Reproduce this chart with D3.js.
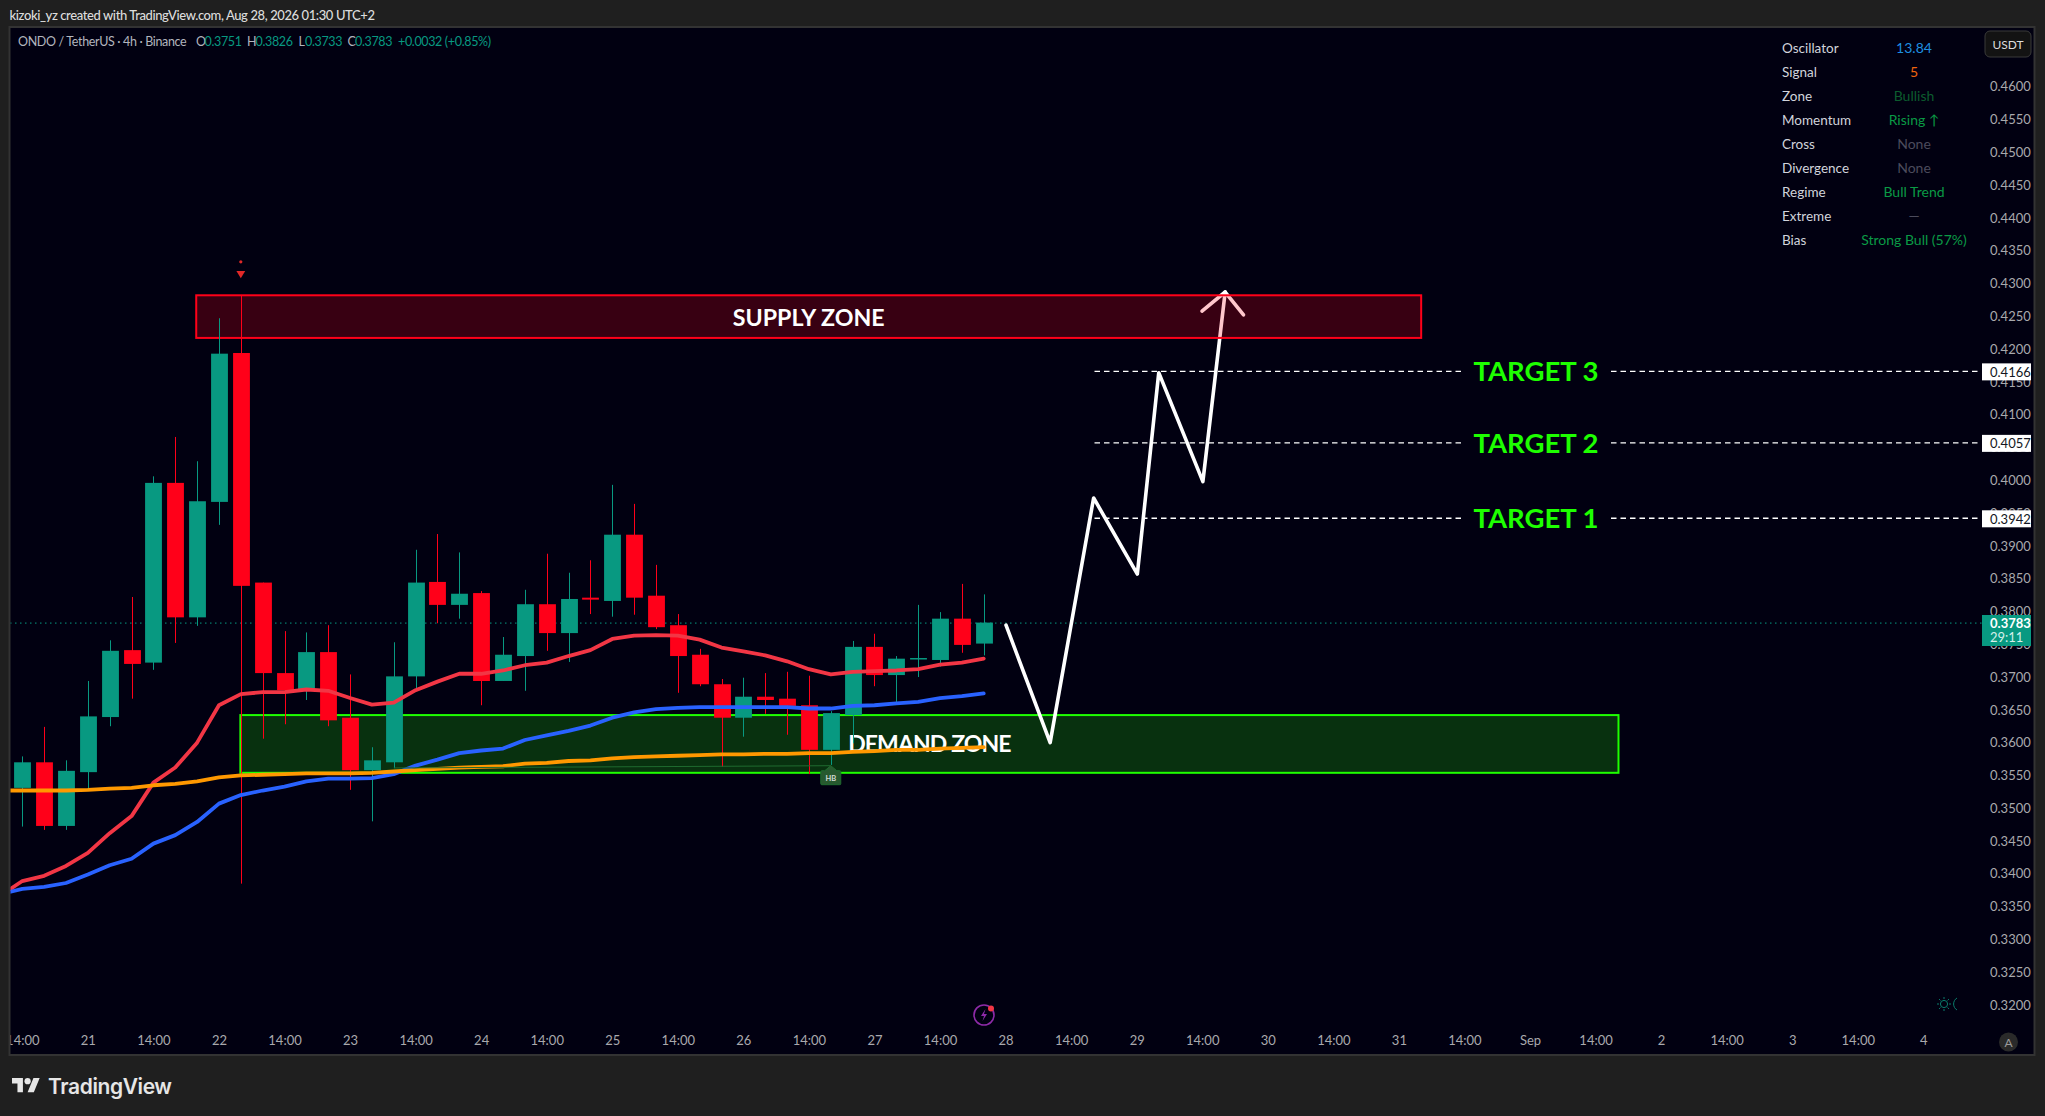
<!DOCTYPE html>
<html>
<head>
<meta charset="utf-8">
<script src="https://cdn.jsdelivr.net/npm/d3@7"></script>
<style>
  html, body { margin: 0; padding: 0; background: #1f1f1f; overflow: hidden; }
  svg { display: block; }
  text { font-family: Lato, "Noto Sans", sans-serif; }
  .axis text { fill: #a9a9ad; font-size: 13px; font-family: Lato, "Noto Sans", sans-serif; }
  .axis path { display: none; }
</style>
</head>
<body>
<svg id="chart" width="2045" height="1116"></svg>
<script>
// candles, one per 4h bar
const opens = [.3531,.3570,.3473,.3555,.3639,.3741,.3722,.3996,.3791,.3967,.4194,.3844,.3706,.3680,.3738,.3638,.3558,.3570,.3701,.3845,.3810,.3828,.3694,
  .3732,.3811,.3767,.3821,.3816,.3917,.3824,.3779,.3734,.3689,.3638,.3670,.3667,.3657,.3589,.3642,.3746,.3703,.3728,.3726,.3789,.3751];
const highs = [.3579,.3624,.3573,.3694,.3756,.3822,.4006,.4066,.4029,.4247,.4282,.3844,.3770,.3768,.3779,.3704,.3593,.3753,.3894,.3918,.3890,.3831,.3761,
  .3833,.3888,.3859,.3878,.3993,.3964,.3871,.3796,.3743,.3697,.3699,.3706,.3708,.3702,.3648,.3755,.3766,.3732,.3810,.3799,.3842,.3826];
const lows = [.3472,.3467,.3467,.3528,.3625,.3667,.3711,.3752,.3778,.3932,.3385,.3606,.3628,.3665,.3625,.3528,.3480,.3561,.3682,.3782,.3789,.3657,.3694,
  .3679,.3740,.3723,.3796,.3792,.3795,.3773,.3676,.3686,.3563,.3609,.3644,.3612,.3552,.3566,.3599,.3686,.3662,.3700,.3716,.3737,.3733];
const closes = [.3570,.3473,.3557,.3640,.3740,.3720,.3996,.3791,.3968,.4193,.3839,.3706,.3680,.3738,.3634,.3558,.3573,.3701,.3844,.3810,.3827,.3694,.3734,
  .3811,.3767,.3819,.3818,.3917,.3821,.3776,.3732,.3689,.3638,.3670,.3665,.3656,.3589,.3645,.3746,.3703,.3728,.3729,.3789,.3749,.3783];

// moving averages, first value sits one bar before the first candle
const emaFast = [.3367,.3389,.3397,.3412,.3432,.3462,.3488,.3539,.3562,.3600,.3657,.3674,.3677,.3677,.3681,.3679,.3668,.3658,.3661,.3680,.3693,.3705,.3705,.3710,
  .3718,.3722,.3732,.3741,.3758,.3763,.3764,.3763,.3757,.3745,.3739,.3733,.3724,.3712,.3704,.3708,.3709,.3710,.3712,.3719,.3722,.3728];
const emaMid = [.3369,.3377,.3380,.3386,.3399,.3413,.3423,.3446,.3459,.3479,.3507,.3520,.3527,.3533,.3541,.3545,.3545,.3546,.3552,.3565,.3574,.3584,.3588,.3591,
  .3604,.3611,.3618,.3626,.3638,.3646,.3651,.3653,.3654,.3654,.3654,.3654,.3654,.3652,.3652,.3656,.3657,.3660,.3662,.3668,.3671,.3675];
const emaSlow = [.3527,.3527,.3527,.3527,.3528,.3530,.3531,.3535,.3537,.3541,.3547,.3550,.3551,.3552,.3553,.3553,.3553,.3554,.3556,.3558,.3560,.3562,.3563,.3564,
  .3568,.3569,.3572,.3573,.3576,.3578,.3579,.3580,.3581,.3582,.3582,.3583,.3583,.3584,.3584,.3586,.3587,.3589,.3589,.3591,.3592,.3593];

// projected path drawn on the chart [bar, price]
const projection = [[45.02,.3779],[47.04,.3600],[49.03,.3973],[51.03,.3857],[52.01,.4164],[54.03,.3998],[55.05,.4287]];
const arrowLeft = [53.99,.4258];
const arrowRight = [55.89,.4252];

const targetNames = ["TARGET 1","TARGET 2","TARGET 3"];
const targetPrices = [.3942,.4057,.4166];

const supplyBars = [7.96,64.02];
const supplyPrices = [.4217,.4282];
const demandBars = [9.98,73.05];
const demandPrices = [.3554,.3642];

const lastPrice = .3783;

const xTickBars = d3.range(0,88,3);
const xTickLabels = ["14:00","21","14:00","22","14:00","23","14:00","24","14:00","25","14:00","26","14:00","27","14:00","28",
  "14:00","29","14:00","30","14:00","31","14:00","Sep","14:00","2","14:00","3","14:00","4"];
const yTicks = [.46,.455,.45,.445,.44,.435,.43,.425,.42,.415,.41,.405,.40,.395,.39,.385,.38,.375,.37,.365,.36,.355,.35,.345,.34,.335,.33,.325,.32];

const statusNames = ["Oscillator","Signal","Zone","Momentum","Cross","Divergence","Regime","Extreme","Bias"];
const statusValues = ["13.84","5","Bullish","Rising ↑","None","None","Bull Trend","—","Strong Bull (57%)"];
const statusColors = ["#1e8fe0","#f0650e","#0c5c2e","#0a9a45","#4b4b5c","#4b4b5c","#0a9a45","#4b4b5c","#0a9a45"];

const bg = "#010011", up = "#089981", down = "#ff0019";

const svg = d3.select("#chart");
const x = d3.scaleLinear().domain([0,87]).range([22.3,1923.3]);
const y = d3.scaleLinear().domain([.32,.46]).range([1005,86.7]);
const step = x(1) - x(0);

// page frame
svg.append("rect").attr("width",2045).attr("height",1116).attr("fill","#1f1f1f");
svg.append("text").attr("x",9.5).attr("y",19.5).attr("fill","#dcdcdc").attr("font-size",13).style("font-weight",500)
  .style("letter-spacing","-.4px").text("kizoki_yz created with TradingView.com, Aug 28, 2026 01:30 UTC+2");
svg.append("rect").attr("x",9.5).attr("y",27).attr("width",2025).attr("height",1028)
  .attr("fill",bg).attr("stroke","#333").attr("stroke-width",2);

svg.append("clipPath").attr("id","pane").append("rect").attr("x",10.5).attr("y",28).attr("width",2023).attr("height",1026);
const pane = svg.append("g").attr("clip-path","url(#pane)");

// axes first, tags cover them later
const yAxis = d3.axisRight(y).tickValues(yTicks).tickFormat(d3.format(".4f")).tickSize(0).tickPadding(0);
pane.append("g").attr("class","axis").attr("transform","translate(1990,0)").call(yAxis);
const xAxis = d3.axisBottom(x).tickValues(xTickBars).tickFormat((d,i) => xTickLabels[i]).tickSize(0).tickPadding(0);
pane.append("g").attr("class","axis").attr("transform","translate(0,1036)").call(xAxis);

// last price line
pane.append("line").attr("x1",10).attr("x2",1982).attr("y1",y(lastPrice)+.5).attr("y2",y(lastPrice)+.5)
  .attr("stroke",up).attr("stroke-width",1).attr("stroke-dasharray","1.5 3.5");

// demand zone
pane.append("rect").attr("x",x(demandBars[0])).attr("y",y(demandPrices[1]))
  .attr("width",x(demandBars[1])-x(demandBars[0])).attr("height",y(demandPrices[0])-y(demandPrices[1]))
  .attr("fill","#08310f").attr("stroke","#1eff00").attr("stroke-width",2);
pane.append("text").attr("x",(x(demandBars[0])+x(demandBars[1]))/2).attr("y",752).attr("text-anchor","middle")
  .attr("fill","#fff").attr("font-size",23).attr("font-weight",700).style("letter-spacing","-.9px").text("DEMAND ZONE");

// target lines, broken around the label
targetPrices.forEach(function (p, i) {
  const line = [[x(49.07),1461],[1611,1980]];
  line.forEach(function (s) {
    pane.append("line").attr("x1",s[0]).attr("x2",s[1]).attr("y1",y(p)).attr("y2",y(p))
      .attr("stroke","#fff").attr("stroke-width",1.4).attr("stroke-dasharray","5.5 4");
  });
  pane.append("text").attr("x",1536).attr("y",y(p)+10).attr("text-anchor","middle")
    .attr("fill","#1eff00").attr("font-size",27.5).attr("font-weight",700).text(targetNames[i]);
});

// projected path
const pathLine = d3.line().x(d => x(d[0])).y(d => y(d[1]));
pane.append("path").attr("d",pathLine(projection)).attr("fill","none").attr("stroke","#fff")
  .attr("stroke-width",3.6).attr("stroke-linecap","round").attr("stroke-linejoin","round");
const tip = projection[projection.length-1];
pane.append("path").attr("d",pathLine([arrowLeft,tip,arrowRight])).attr("fill","none").attr("stroke","#fff")
  .attr("stroke-width",3.6).attr("stroke-linecap","round").attr("stroke-linejoin","round");

// supply zone is see through, path shows pink under it
pane.append("rect").attr("x",x(supplyBars[0])).attr("y",y(supplyPrices[1]))
  .attr("width",x(supplyBars[1])-x(supplyBars[0])).attr("height",y(supplyPrices[0])-y(supplyPrices[1]))
  .attr("fill","rgba(255,0,25,.22)").attr("stroke","#ff0019").attr("stroke-width",2);
pane.append("text").attr("x",(x(supplyBars[0])+x(supplyBars[1]))/2).attr("y",326).attr("text-anchor","middle")
  .attr("fill","#fff").attr("font-size",23.2).attr("font-weight",700).text("SUPPLY ZONE");

// candles
const bars = d3.range(opens.length);
const bodyWidth = step * 0.77;
pane.append("g").selectAll("line").data(bars).join("line")
  .attr("x1",i => Math.round(x(i))+.5).attr("x2",i => Math.round(x(i))+.5)
  .attr("y1",i => y(highs[i])).attr("y2",i => y(lows[i]))
  .attr("stroke",i => closes[i] >= opens[i] ? up : down).attr("stroke-width",1);
pane.append("g").selectAll("rect").data(bars).join("rect")
  .attr("x",i => Math.round(x(i))+.5-bodyWidth/2).attr("width",bodyWidth)
  .attr("y",i => y(Math.max(opens[i],closes[i])))
  .attr("height",i => Math.max(1.5,Math.abs(y(opens[i])-y(closes[i]))))
  .attr("fill",i => closes[i] >= opens[i] ? up : down);

// moving averages
const emaLine = d3.line().x((d,i) => x(i-1)).y(d => y(d));
[[emaFast,"#f23645"],[emaMid,"#2962ff"],[emaSlow,"#ff9800"]].forEach(function (s) {
  pane.append("path").attr("d",emaLine(s[0])).attr("fill","none").attr("stroke",s[1])
    .attr("stroke-width",3.8).attr("stroke-linecap","round").attr("stroke-linejoin","round");
});

// high marker above the spike
pane.append("circle").attr("cx",x(10)).attr("cy",y(.4333)).attr("r",1.6).attr("fill","#e02828");
const tx = x(10);
pane.append("path").attr("d",d3.line()([[tx-4.4,y(.4319)],[tx+4.4,y(.4319)],[tx,y(.4308)]])+"Z").attr("fill","#e02828");

// HB marker
pane.append("path").attr("d",pathLine([[17,.35614],[37,.35648]])).attr("stroke","#1f6b2f").attr("fill","none");
const hx = x(37), hy = y(.35648);
pane.append("path").attr("d",`M${hx},${hy}l6,5h3q1,0 1,1v12q0,1 -1,1h-18q-1,0 -1,-1v-12q0,-1 1,-1h3z`)
  .attr("fill","#27592f").attr("stroke","#1f6b2f");
pane.append("text").attr("x",hx).attr("y",hy+15.5).attr("text-anchor","middle").attr("fill","#d5dcd5")
  .attr("font-size",7.5).attr("font-weight",700).text("HB");

// price tags
targetPrices.forEach(function (p) {
  pane.append("rect").attr("x",1982).attr("y",y(p)-8).attr("width",49).attr("height",17).attr("fill","#fff");
  pane.append("text").attr("x",1990).attr("y",y(p)+5.2).attr("fill","#131722").attr("font-size",13).text(d3.format(".4f")(p));
});
pane.append("rect").attr("x",1982).attr("y",615).attr("width",49).attr("height",31).attr("fill",up);
pane.append("text").attr("x",1990).attr("y",628).attr("fill","#fff").attr("font-size",13).attr("font-weight",700).text(d3.format(".4f")(lastPrice));
pane.append("text").attr("x",1990).attr("y",642).attr("fill","#d4efe9").attr("font-size",13).text("29:11");

// USDT button
pane.append("rect").attr("x",1985).attr("y",31).attr("width",46).attr("height",26).attr("rx",5)
  .attr("fill","#131313").attr("stroke","#3a3a3a");
pane.append("text").attr("x",2008).attr("y",48.5).attr("text-anchor","middle").attr("fill","#dcdcdc").attr("font-size",12).text("USDT");

// legend line
const legendParts = [[18,"ONDO / TetherUS · 4h · Binance","#b2b5be"],[196,"O","#b2b5be"],[204.5,"0.3751",up],[247,"H","#b2b5be"],[255.5,"0.3826",up],
  [298.5,"L","#b2b5be"],[305,"0.3733",up],[347.5,"C","#b2b5be"],[355,"0.3783",up],[398,"+0.0032 (+0.85%)",up]];
pane.selectAll("text.legend").data(legendParts).join("text").attr("class","legend")
  .attr("x",d => d[0]).attr("y",46).attr("fill",d => d[2]).attr("font-size",12.5)
  .style("letter-spacing","-.35px").text(d => d[1]);

// status table
const rowY = d3.scalePoint().domain(statusNames).range([48.3,240.3]);
pane.selectAll("text.name").data(statusNames).join("text").attr("class","name")
  .attr("x",1782).attr("y",d => rowY(d)+4.7).attr("fill","#d1d4dc").attr("font-size",13.5).text(d => d);
pane.selectAll("text.val").data(statusValues).join("text").attr("class","val")
  .attr("x",1914).attr("y",(d,i) => rowY(statusNames[i])+4.7).attr("text-anchor","middle")
  .attr("fill",(d,i) => statusColors[i]).attr("font-size",14).text(d => d);

// small icons at the bottom of the pane
const bolt = pane.append("g").attr("transform","translate(984,1015)");
bolt.append("circle").attr("r",10).attr("fill","none").attr("stroke","#8e2aa8").attr("stroke-width",1.6);
bolt.append("path").attr("d","M1.5,-6L-3,1H0L-1.5,6L3,-1H0Z").attr("fill","#8e2aa8");
bolt.append("circle").attr("cx",7).attr("cy",-6.5).attr("r",3).attr("fill","#f23645");

const sun = pane.append("g").attr("transform","translate(1944,1004)").attr("stroke","#0a7d6c").attr("fill","none");
sun.append("circle").attr("r",3.6);
d3.range(8).forEach(function (k) {
  const a = k * Math.PI / 4;
  sun.append("line").attr("x1",5*Math.cos(a)).attr("y1",5*Math.sin(a)).attr("x2",7*Math.cos(a)).attr("y2",7*Math.sin(a));
});
sun.append("path").attr("d","M13,-6A7,7 0 0 0 13,6");

pane.append("circle").attr("cx",2008.5).attr("cy",1042).attr("r",9.5).attr("fill","#2a2a2a");
pane.append("text").attr("x",2008.5).attr("y",1046.5).attr("text-anchor","middle").attr("fill","#9a9a9a").attr("font-size",12).text("A");

// TradingView logo
const logo = svg.append("g").attr("transform","translate(12,1075) scale(.78)").attr("fill","#e6e6e6");
logo.append("path").attr("d","M14 22H7V11H0V4h14v18zM28 22h-8l7.5-18h8L28 22z");
logo.append("circle").attr("cx",20).attr("cy",8).attr("r",4);
svg.append("text").attr("x",48).attr("y",1094).attr("fill","#e6e6e6").attr("font-size",21).attr("font-weight",600)
  .style("font-family",'"Inter", sans-serif').style("letter-spacing","-.4px").text("TradingView");
</script>
</body>
</html>
